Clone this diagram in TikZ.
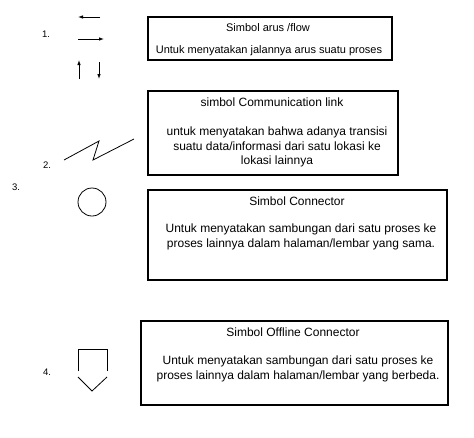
\documentclass[tikz,border=0pt]{standalone}
\usepackage{fontspec}
\setmainfont{Liberation Sans}
\usetikzlibrary{arrows.meta}
\begin{document}
\begin{tikzpicture}[x=1pt,y=-1pt,
  infobox/.style={draw=black,line width=1.8pt},
  boxtxt/.style={font=\fontsize{12}{14.5}\selectfont,align=center,inner sep=0pt},
  numtxt/.style={font=\fontsize{9.5}{10}\selectfont,inner sep=0pt},
  symline/.style={line width=0.8pt},
  arr/.style={symline,-{Latex[length=5pt,width=3.5pt]}}]
\useasboundingbox (0,0) rectangle (474,437);
% numbers
\node[numtxt] (n1) at (46,34) {1.};
\node[numtxt] (n2) at (47,165) {2.};
\node[numtxt] (n3) at (16,187) {3.};
\node[numtxt] (n4) at (47,372) {4.};
% 1. flow arrows
\coordinate (a1s) at (100,17); \coordinate (a1e) at (78,17);
\coordinate (a2s) at (78,39); \coordinate (a2e) at (104,39);
\coordinate (a3s) at (79,79); \coordinate (a3e) at (79,60);
\coordinate (a4s) at (99,62); \coordinate (a4e) at (99,79);
\draw[arr] (a1s) -- (a1e);
\draw[arr] (a2s) -- (a2e);
\draw[arr] (a3s) -- (a3e);
\draw[arr] (a4s) -- (a4e);
\node[infobox,minimum width=244pt,minimum height=43pt,anchor=north west] (b1) at (147,16) {};
\node[boxtxt,font=\fontsize{11}{13}\selectfont] (b1t) at (268,28) {Simbol arus /flow};
\node[boxtxt,font=\fontsize{11}{13}\selectfont] (b1d) at (269,51) {Untuk menyatakan jalannya arus suatu proses};
% 2. communication link
\coordinate (z1) at (64,160); \coordinate (z2) at (99,141);
\coordinate (z3) at (93,160); \coordinate (z4) at (134,139);
\draw[symline] (z1) -- (z2) -- (z3) -- (z4);
\node[infobox,minimum width=250pt,minimum height=84pt,anchor=north west] (b2) at (147,90) {};
\node[boxtxt] (b2t) at (272,102) {simbol Communication link};
\node[boxtxt] (b2d) at (277,147) {untuk menyatakan bahwa adanya transisi\\suatu data/informasi dari satu lokasi ke\\lokasi lainnya};
% 3. connector
\node[draw,symline,circle,minimum size=28pt,inner sep=0pt] (c3) at (92,202) {};
\node[infobox,minimum width=299pt,minimum height=90pt,anchor=north west] (b3) at (147,189) {};
\node[boxtxt] (b3t) at (297,201) {Simbol Connector};
\node[boxtxt] (b3d) at (301,237) {Untuk menyatakan sambungan dari satu proses ke\\proses lainnya dalam halaman/lembar yang sama.};
% 4. offline connector
\coordinate (o1) at (78,371); \coordinate (o2) at (78,349);
\coordinate (o3) at (107,349); \coordinate (o4) at (107,371);
\coordinate (v1) at (78,377); \coordinate (v2) at (92,391); \coordinate (v3) at (107,377);
\draw[symline] (o1) -- (o2) -- (o3) -- (o4);
\draw[symline] (v1) -- (v2) -- (v3);
\node[infobox,minimum width=307pt,minimum height=84pt,anchor=north west] (b4) at (140,320) {};
\node[boxtxt] (b4t) at (293,332) {Simbol Offline Connector};
\node[boxtxt] (b4d) at (298,369) {Untuk menyatakan sambungan dari satu proses ke\\proses lainnya dalam halaman/lembar yang berbeda.};
\end{tikzpicture}
\end{document}
